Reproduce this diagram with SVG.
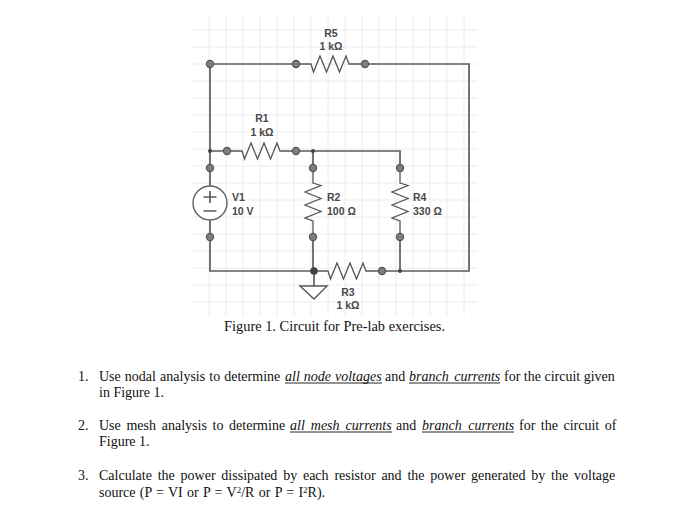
<svg xmlns="http://www.w3.org/2000/svg" width="680" height="506" viewBox="0 0 680 506">
<style>
.g{stroke:#ececec;stroke-width:1;fill:none}
.w{stroke:#5a5e5d;stroke-width:1.700;fill:none}
.z{stroke:#555;stroke-width:1.300;fill:none;stroke-linejoin:miter}
.t{fill:#7d7f7e;stroke:#555;stroke-width:1.200}
.j{fill:#3d4443}
.l{font-family:"Liberation Sans",Arial,sans-serif;font-size:10.500px;font-weight:bold;fill:#484848}
.p{font-family:"Liberation Serif","Times New Roman",serif;font-size:14px;fill:#111}
.i{font-style:italic}
.u{stroke:#111;stroke-width:.9}
</style>
<defs>
<path id="zh" class="z" d="M0 0H15l2.500 8 6.500-16 6.500 16 6.500-16 6.500 16 6.500-16 3 8H69"/>
<path id="zv" class="z" d="M0 0V15l8 2.500-16 6.500 16 6.500-16 6.500 16 6.500-16 6.500 8 3V69"/>
<circle id="tm" class="t" r="3.600"/>
</defs>
<g id="grid">
<path class="g" d="M192 30H477M192 47H477M192 64H477M192 81H477M192 98H477M192 115H477M192 132H477M192 149H477M192 166H477M192 183H477M192 200H477M192 217H477M192 234H477M192 251H477M192 268H477M192 285H477M192 302H477"/>
<path class="g" d="M209 17V316M226 17V316M243 17V316M260 17V316M277 17V316M294 17V316M311 17V316M328 17V316M345 17V316M362 17V316M379 17V316M396 17V316M413 17V316M430 17V316M447 17V316M464 17V316"/>
</g>
<g id="connectors">
<path class="w" d="M296 64H210V186M210 220V271H314M382 271H469V64H365"/>
<path class="w" d="M210 151H227M296 151H400V168M313 151V168M313 237V271M400 237V271"/>
<path class="w" d="M314 271V286"/>
</g>
<g id="R5"><use href="#zh" x="296" y="64"/><use href="#tm" x="296" y="64"/><use href="#tm" x="365" y="64"/>
<text class="l" x="331" y="37" text-anchor="middle">R5</text><text class="l" x="331" y="50" text-anchor="middle">1 kΩ</text></g>
<g id="R1"><use href="#zh" x="227" y="151"/><use href="#tm" x="227" y="151"/><use href="#tm" x="296" y="151"/>
<text class="l" x="262" y="122" text-anchor="middle">R1</text><text class="l" x="262" y="136" text-anchor="middle">1 kΩ</text></g>
<g id="R2"><use href="#zv" x="313" y="168"/><use href="#tm" x="313" y="168"/><use href="#tm" x="313" y="237"/>
<text class="l" x="327" y="201">R2</text><text class="l" x="327" y="214.500">100 Ω</text></g>
<g id="R4"><use href="#zv" x="400" y="168"/><use href="#tm" x="400" y="168"/><use href="#tm" x="400" y="237"/>
<text class="l" x="413" y="201">R4</text><text class="l" x="413" y="214.500">330 Ω</text></g>
<g id="R3"><use href="#zh" x="313" y="271"/><use href="#tm" x="382" y="271"/>
<text class="l" x="348" y="296" text-anchor="middle">R3</text><text class="l" x="348" y="309" text-anchor="middle">1 kΩ</text></g>
<g id="V1"><circle cx="210" cy="203" r="17" fill="#fff" stroke="#5f6362" stroke-width="1.400"/>
<path class="w" d="M203.500 197H216.500M210 191V203M203.500 211H216.500"/>
<use href="#tm" x="210" y="168"/><use href="#tm" x="210" y="237"/>
<text class="l" x="232" y="201">V1</text><text class="l" x="232" y="214.500">10 V</text></g>
<g id="GND"><path d="M300 286H327L314 299Z" fill="#fff" stroke="#555" stroke-width="1.400"/></g>
<g id="nodes">
<use href="#tm" x="210" y="64"/>
<circle class="j" cx="210" cy="151" r="2"/><circle class="j" cx="313" cy="151" r="2"/>
<circle class="j" cx="314" cy="271" r="3.800"/><circle class="j" cx="400" cy="271" r="2"/>
</g>
<g id="text">
<text class="p" x="224" y="331" style="font-size:14.400px">Figure 1. Circuit for Pre-lab exercises.</text>
<text class="p" x="78" y="381">1.</text>
<text class="p" x="99" y="381" word-spacing="0.600">Use nodal analysis to determine</text>
<text class="p i" x="285" y="381" word-spacing="0.500">all node voltages</text><path class="u" d="M285 383H382"/>
<text class="p" x="385" y="381">and</text>
<text class="p i" x="409" y="381" word-spacing="2">branch currents</text><path class="u" d="M409 383H500"/>
<text class="p" x="504" y="381">for the circuit given</text>
<text class="p" x="99" y="397">in Figure 1.</text>
<text class="p" x="78" y="430">2.</text>
<text class="p" x="99" y="430" word-spacing="2.200">Use mesh analysis to determine</text>
<text class="p i" x="290" y="430" word-spacing="2.500">all mesh currents</text><path class="u" d="M290 432H392"/>
<text class="p" x="396" y="430">and</text>
<text class="p i" x="422" y="430" word-spacing="3">branch currents</text><path class="u" d="M422 432H514"/>
<text class="p" x="519" y="430" word-spacing="2">for the circuit of</text>
<text class="p" x="99" y="446">Figure 1.</text>
<text class="p" x="78" y="480">3.</text>
<text class="p" x="99" y="480" word-spacing="2.300">Calculate the power dissipated by each resistor and the power generated by the voltage</text>
<text class="p" x="99" y="497" word-spacing="0.800">source (P = VI or P = V<tspan font-size="9" dy="-4.500">2</tspan><tspan dy="4.500">/R or P = I</tspan><tspan font-size="9" dy="-4.500">2</tspan><tspan dy="4.500">R).</tspan></text>
</g>
</svg>
